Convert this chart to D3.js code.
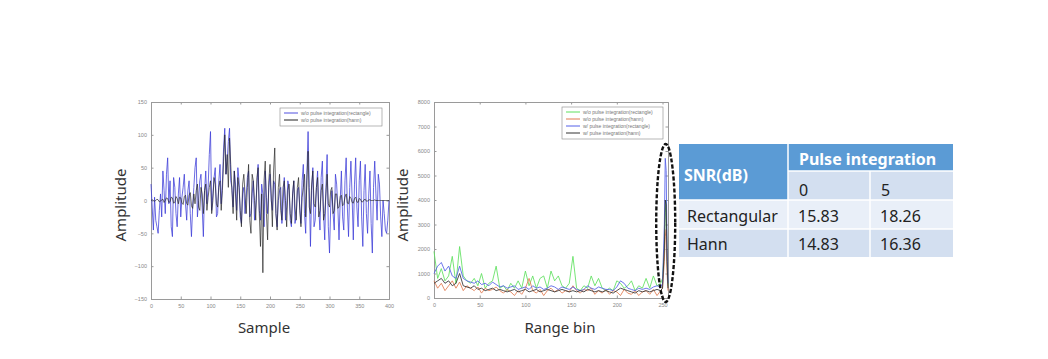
<!DOCTYPE html>
<html>
<head>
<meta charset="utf-8">
<script src="https://cdn.jsdelivr.net/npm/d3@7"></script>
<style>
body { margin:0; background:#fff; }
svg { display:block; }
.tick text { font-family: "Liberation Sans", sans-serif; }
</style>
</head>
<body>
<svg id="chart" width="1048" height="359"></svg>
<script>
// left chart : time samples, step 2
var sampleStep = 2;
var blueRect = [25,-10,-45,5,-30,-40,-50,-15,10,-25,45,15,-20,40,65,-5,30,-40,-55,35,
	20,-20,-40,10,35,-25,5,20,40,-5,-30,15,30,-20,-55,-10,20,50,65,-25,
	0,30,40,-10,-55,15,45,-5,20,70,105,-15,10,35,50,-25,-20,30,55,-5,
	25,80,110,40,60,90,110,30,20,-10,45,25,-15,50,30,-25,-35,10,20,-20,
	5,35,45,-25,-20,10,30,-30,-10,20,55,-15,-30,25,10,-40,45,5,-20,20,
	40,0,-15,30,25,-20,-40,0,15,20,-35,-5,35,-30,-10,30,20,-30,-40,10,
	30,-35,-25,15,20,-10,-35,30,55,-20,-50,40,105,20,-70,15,50,-40,-30,20,
	45,-15,-45,35,60,-20,-60,20,70,-40,-80,-10,15,-20,-45,40,25,-10,-60,0,
	45,-25,-45,30,65,-10,-55,20,60,5,-60,25,65,-10,-40,30,60,-25,-70,15,
	55,-20,-50,10,45,-35,-80,20,60,10,-30,40,25,-25,-55,0,-20,-45,-50,-30,0];
var blackHann = [0,1,0,-1,0,2,1,-2,-1,1,2,-3,0,4,3,-3,-2,5,4,-4,
	-3,6,3,-5,5,4,-4,-6,6,8,-5,-7,8,12,-8,-12,10,-5,15,25,
	-10,-15,20,10,-20,15,25,-15,5,20,30,-20,0,35,25,-5,-10,20,30,-15,
	15,60,100,40,70,20,95,55,15,-20,45,10,-30,35,20,-15,-40,25,40,10,
	-20,20,55,-30,-50,40,30,0,-30,35,50,-20,-70,10,-110,30,60,-20,-60,30,
	55,10,-40,45,80,-20,-45,20,40,-15,-30,20,30,0,-40,15,25,-20,-35,10,
	30,-10,-30,20,35,-15,-40,5,20,40,-25,30,75,-10,-20,25,45,-5,-10,20,
	35,-25,-15,15,25,-30,-20,10,40,-5,-10,15,20,-20,-15,10,10,-12,-10,6,
	8,-8,-6,5,10,-4,-5,6,4,-3,-4,3,5,-2,-3,3,2,-2,-2,1,
	2,-1,-1,1,1,0,0,0,1,0,0,0,0,0,0,0,0,0,0,0,0];

// right chart : range bins
var bins = [0,4,8,12,16,20,24,28,32,36,40,44,48,52,56,60,64,68,72,76,80,84,88,92,96,100,104,108,112,116,120,124,128,132,136,140,144,148,152,156,160,164,168,172,176,180,184,188,192,196,200,204,208,212,216,220,224,228,232,236,240,244,248,250,252,253,254,255,256];
var greenWo = [1900,800,1200,700,900,1700,600,2100,900,700,600,800,500,1000,400,600,700,1300,400,500,300,600,400,700,400,1100,500,900,400,800,900,400,1100,700,900,500,400,600,1700,400,300,500,400,900,500,800,400,300,400,300,700,600,400,500,700,300,500,400,800,400,900,500,600,800,2000,3500,4000,1500,500];
var orangeWo = [700,400,600,300,500,700,400,650,300,500,400,300,450,200,400,300,350,450,300,200,350,250,100,300,150,400,800,300,200,350,100,300,400,250,350,200,300,250,500,300,200,350,300,400,150,300,200,350,150,300,250,100,350,200,150,300,100,250,300,150,350,100,300,400,1500,2500,2800,1000,300];
var blueW = [1000,1300,1450,1100,1300,900,800,1300,800,700,650,600,700,550,600,500,650,550,450,500,400,450,500,350,400,450,350,500,400,450,350,400,500,450,350,450,400,350,450,350,300,350,500,400,350,450,400,350,350,300,450,700,600,400,350,300,400,350,400,350,450,500,450,600,3000,5700,5200,2000,600];
var blackW = [600,700,800,600,700,500,600,1000,500,450,400,500,350,400,300,350,400,300,350,300,250,300,350,250,300,350,250,300,350,250,300,350,300,250,300,350,300,250,300,250,300,250,350,300,250,300,250,300,250,200,300,400,350,300,250,200,300,250,300,250,300,350,300,400,2000,4000,3800,1500,400];

var leftLegend = ["w/o pulse integration(rectangle)","w/o pulse integration(hann)"];
var rightLegend = ["w/o pulse integration(rectangle)","w/o pulse integration(hann)","w/ pulse integration(rectangle)","w/ pulse integration(hann)"];

// table
var colHeader = "Pulse integration";
var cornerLabel = "SNR(dB)";
var colLabels = ["0","5"];
var rowLabels = ["Rectangular","Hann"];
var tableValues = [["15.83","18.26"],["14.83","16.36"]];

var svg = d3.select("#chart");
var font = "'Noto Sans', 'Open Sans', sans-serif";

function drawPanel(box, xDom, yDom, xTicks, yTicks) {
	var x = d3.scaleLinear().domain(xDom).range([box.x0, box.x1]);
	var y = d3.scaleLinear().domain(yDom).range([box.y1, box.y0]);
	var g = svg.append("g");
	g.append("rect")
		.attr("x", box.x0).attr("y", box.y0)
		.attr("width", box.x1-box.x0).attr("height", box.y1-box.y0)
		.attr("fill", "#fff");
	var ax = g.append("g").attr("transform","translate(0,"+box.y1+")")
		.call(d3.axisBottom(x).tickValues(xTicks).tickSize(-2.5).tickPadding(5).tickFormat(d3.format("d")));
	var ay = g.append("g").attr("transform","translate("+box.x0+",0)")
		.call(d3.axisLeft(y).tickValues(yTicks).tickSize(-2.5).tickPadding(4).tickFormat(d3.format("d")));
	var at = g.append("g").attr("transform","translate(0,"+box.y0+")")
		.call(d3.axisTop(x).tickValues(xTicks).tickSize(-2.5).tickFormat(""));
	var ar = g.append("g").attr("transform","translate("+box.x1+",0)")
		.call(d3.axisRight(y).tickValues(yTicks).tickSize(-2.5).tickFormat(""));
	[ax,ay,at,ar].forEach(function(a){
		a.selectAll("path").attr("stroke","#9a9a9a");
		a.selectAll("line").attr("stroke","#9a9a9a");
		a.selectAll("text").attr("fill","#888").style("font-size","5.5px");
	});
	return {x:x, y:y, g:g};
}

// ---- left panel
var L = drawPanel({x0:151, x1:389, y0:102, y1:299}, [0,400], [-150,150],
	d3.range(0,401,50), d3.range(-150,151,50));
var lineL = d3.line()
	.x(function(d,i){ return L.x(i*sampleStep); })
	.y(function(d){ return L.y(d); });
L.g.append("path").datum(blueRect).attr("d", lineL)
	.attr("fill","none").attr("stroke","#3b3bd8").attr("stroke-width",0.9).attr("opacity",0.85);
L.g.append("path").datum(blackHann).attr("d", lineL)
	.attr("fill","none").attr("stroke","#222").attr("stroke-width",0.9).attr("opacity",0.75);

function legend(g, x0, y0, w, items, colors) {
	var h = items.length*7 + 4;
	g.append("rect").attr("x",x0).attr("y",y0).attr("width",w).attr("height",h)
		.attr("fill","#fff").attr("stroke","#888").attr("stroke-width",0.6);
	var it = g.selectAll(".lg"+x0).data(items).enter().append("g");
	it.append("line")
		.attr("x1",x0+4).attr("x2",x0+18)
		.attr("y1",function(d,i){return y0+5+i*7;})
		.attr("y2",function(d,i){return y0+5+i*7;})
		.attr("stroke",function(d,i){return colors[i];}).attr("stroke-width",1);
	it.append("text")
		.attr("x",x0+21).attr("y",function(d,i){return y0+7+i*7;})
		.text(function(d){return d;})
		.attr("fill","#777").style("font-size","5px").style("font-family","'Liberation Sans', sans-serif");
}
legend(L.g, 280, 108, 102, leftLegend, ["#5050e0","#222"]);

svg.append("text").attr("transform","translate(126,205) rotate(-90)")
	.attr("text-anchor","middle").style("font-family",font).style("font-size","15px").attr("fill","#333")
	.text("Amplitude");
svg.append("text").attr("x",264).attr("y",333)
	.attr("text-anchor","middle").style("font-family",font).style("font-size","15px").attr("fill","#333")
	.text("Sample");

// ---- right panel
var R = drawPanel({x0:434, x1:668, y0:102, y1:298}, [0,256], [0,8000],
	d3.range(0,251,50), d3.range(0,8001,1000));
var lineR = function(vals){
	return d3.line()
		.x(function(d,i){ return R.x(bins[i]); })
		.y(function(d){ return R.y(d); })(vals);
};
var rSeries = [greenWo, orangeWo, blueW, blackW];
var rColors = ["#5fe05f","#e07a50","#5560e8","#333"];
rSeries.forEach(function(s,k){
	R.g.append("path").attr("d", lineR(s))
		.attr("fill","none").attr("stroke",rColors[k]).attr("stroke-width",1).attr("opacity",0.85);
});
legend(R.g, 562, 107, 101, rightLegend, rColors);

svg.append("ellipse")
	.attr("cx", R.x(253.5)).attr("cy", 223)
	.attr("rx", 9.5).attr("ry", 79)
	.attr("fill","none").attr("stroke","#111").attr("stroke-width",2.4)
	.attr("stroke-dasharray","4,2");

svg.append("text").attr("transform","translate(408,205) rotate(-90)")
	.attr("text-anchor","middle").style("font-family",font).style("font-size","15px").attr("fill","#333")
	.text("Amplitude");
svg.append("text").attr("x",560).attr("y",333)
	.attr("text-anchor","middle").style("font-family",font).style("font-size","15px").attr("fill","#333")
	.text("Range bin");

// ---- table
var tx = [679, 788, 870, 953];
var ty = [144, 171, 200, 229, 257];
var T = svg.append("g");
// header block
T.append("rect").attr("x",tx[0]).attr("y",ty[0]).attr("width",tx[3]-tx[0]).attr("height",ty[1]-ty[0]).attr("fill","#5b9bd5");
T.append("rect").attr("x",tx[0]).attr("y",ty[0]).attr("width",tx[1]-tx[0]).attr("height",ty[2]-ty[0]).attr("fill","#5b9bd5");
T.append("rect").attr("x",tx[1]).attr("y",ty[1]).attr("width",tx[3]-tx[1]).attr("height",ty[2]-ty[1]).attr("fill","#d3dff0");
var rowFill = ["#e9eff8","#d3dff0"];
rowLabels.forEach(function(r,i){
	T.append("rect").attr("x",tx[0]).attr("y",ty[i+2]).attr("width",tx[3]-tx[0]).attr("height",ty[i+3]-ty[i+2]).attr("fill",rowFill[i]);
});
// white separators
[tx[1], tx[2]].forEach(function(xx,k){
	T.append("line").attr("x1",xx).attr("x2",xx)
		.attr("y1", k==0 ? ty[0] : ty[1]).attr("y2",ty[4])
		.attr("stroke","#fff").attr("stroke-width",1.5);
});
[ty[1], ty[2], ty[3]].forEach(function(yy,k){
	T.append("line").attr("x1", k==0 ? tx[1] : tx[0]).attr("x2",tx[3])
		.attr("y1",yy).attr("y2",yy).attr("stroke","#fff").attr("stroke-width",1.5);
});
function cell(txt, x, y, color, bold) {
	T.append("text").attr("x",x).attr("y",y).text(txt)
		.style("font-family",font).style("font-size","16px")
		.style("font-weight", bold ? "bold" : "normal").attr("fill",color);
}
cell(cornerLabel, tx[0]+5, 181, "#fff", true);
cell(colHeader, tx[1]+11, 165, "#fff", true);
colLabels.forEach(function(c,j){ cell(c, tx[j+1]+11, 196, "#222", false); });
rowLabels.forEach(function(r,i){
	cell(r, tx[0]+8, ty[i+2]+22 - i, "#222", false);
	tableValues[i].forEach(function(v,j){ cell(v, tx[j+1]+10, ty[i+2]+22 - i, "#222", false); });
});
</script>
</body>
</html>
